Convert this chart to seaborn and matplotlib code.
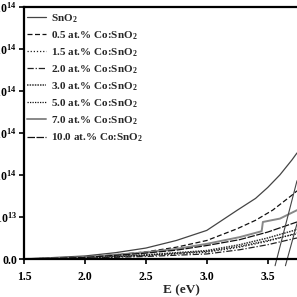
import numpy as np
import pandas as pd
import matplotlib
matplotlib.use("Agg")
import matplotlib.pyplot as plt
import seaborn as sns

sns.set_theme(style="ticks")
plt.rcParams['font.family'] = ['Liberation Serif', 'DejaVu Serif']
plt.rcParams['font.weight'] = 'bold'
plt.rcParams['mathtext.fontset'] = 'custom'
plt.rcParams['mathtext.rm'] = 'Liberation Serif:bold'
plt.rcParams['mathtext.it'] = 'Liberation Serif:bold'
plt.rcParams['mathtext.bf'] = 'Liberation Serif:bold'

# Photon energy (eV) and absorption coefficient (x1e13) per sample
E_sno2 = [1.5, 2.0, 2.25, 2.5, 2.75, 3.0, 3.25, 3.4, 3.5, 3.6, 3.7, 3.74]
A_sno2 = [0.0, 0.36, 0.75, 1.3, 2.2, 3.4, 5.8, 7.2, 8.5, 10.0, 11.8, 12.6]

E_05 = [1.5, 2.0, 2.25, 2.5, 2.75, 3.0, 3.25, 3.4, 3.54, 3.7, 3.74]
A_05 = [0.0, 0.25, 0.5, 0.85, 1.4, 2.2, 3.6, 4.6, 5.8, 7.6, 8.1]

E_15 = [1.5, 2.0, 2.5, 3.0, 3.27, 3.5, 3.74]
A_15 = [0.0, 0.12, 0.4, 0.8, 1.4, 2.1, 3.1]

E_20 = [1.5, 2.0, 2.5, 3.0, 3.27, 3.5, 3.74]
A_20 = [0.0, 0.1, 0.3, 0.6, 1.1, 1.7, 2.5]

E_30 = [1.5, 2.0, 2.5, 3.0, 3.27, 3.5, 3.74]
A_30 = [0.0, 0.15, 0.5, 1.0, 1.7, 2.5, 3.5]

E_50 = [1.5, 2.0, 2.5, 3.0, 3.27, 3.5, 3.74]
A_50 = [0.0, 0.12, 0.45, 0.9, 1.5, 2.2, 3.0]

E_70 = [1.5, 2.0, 2.5, 2.75, 3.0, 3.27, 3.45, 3.46, 3.6, 3.74]
A_70 = [0.0, 0.2, 0.8, 1.2, 1.8, 2.6, 3.3, 4.4, 4.8, 5.8]

E_100 = [1.5, 2.0, 2.5, 2.75, 3.0, 3.27, 3.5, 3.74]
A_100 = [0.0, 0.18, 0.7, 1.05, 1.6, 2.3, 3.2, 4.4]

# steep absorption-edge segments
E_edgeA = [3.56, 3.74]
A_edgeA = [-0.8, 9.3]
E_edgeB = [3.645, 3.74]
A_edgeB = [-0.8, 4.2]

labels = ["SnO$_2$", "0.5 at.% Co:SnO$_2$", "1.5 at.% Co:SnO$_2$",
          "2.0 at.% Co:SnO$_2$", "3.0 at.% Co:SnO$_2$", "5.0 at.% Co:SnO$_2$",
          "7.0 at.% Co:SnO$_2$", "10.0 at.% Co:SnO$_2$"]

series = [(E_sno2, A_sno2), (E_05, A_05), (E_15, A_15), (E_20, A_20),
          (E_30, A_30), (E_50, A_50), (E_70, A_70), (E_100, A_100)]
styles = [dict(color="#444444", ls="-", lw=0.9),
          dict(color="#111111", ls=(0, (4, 2)), lw=0.9),
          dict(color="#222222", ls=(0, (1, 1.5)), lw=0.9),
          dict(color="#222222", ls=(0, (5, 1.5, 1, 1.5)), lw=0.9),
          dict(color="#333333", ls=(0, (1, 0.7)), lw=1.1),
          dict(color="#111111", ls=(0, (1, 1)), lw=0.9),
          dict(color="#888888", ls="-", lw=1.4),
          dict(color="#111111", ls=(0, (6, 1.2)), lw=0.9)]

fig = plt.figure(figsize=(2.97, 2.97), dpi=100)
ax = fig.add_axes([24 / 297, 38 / 297, 273 / 297, 252.5 / 297])

for (E, A), lab, st in zip(series, labels, styles):
    df = pd.DataFrame({"E": E, "alpha": np.array(A) * 1e13})
    sns.lineplot(data=df, x="E", y="alpha", ax=ax, label=lab,
                 color=st["color"], linestyle=st["ls"], linewidth=st["lw"],
                 sort=False, estimator=None)

for E, A in [(E_edgeA, A_edgeA), (E_edgeB, A_edgeB)]:
    df = pd.DataFrame({"E": E, "alpha": np.array(A) * 1e13})
    sns.lineplot(data=df, x="E", y="alpha", ax=ax, color="#444444",
                 linewidth=0.8, sort=False, estimator=None, legend=False,
                 clip_on=False)

ax.set_xlim(1.5, 3.74)
ax.set_ylim(0, 3e14)
ax.set_xticks([1.5, 2.0, 2.5, 3.0, 3.5])
ax.set_xticklabels(["1.5", "2.0", "2.5", "3.0", "3.5"])
yt = [0, 5e13, 1e14, 1.5e14, 2e14, 2.5e14, 3e14]
ytl = ["0.0", "5.0x10$^{13}$", "1.0x10$^{14}$", "1.5x10$^{14}$",
       "2.0x10$^{14}$", "2.5x10$^{14}$", "3.0x10$^{14}$"]
ax.set_yticks(yt)
ax.set_yticklabels(ytl)
ax.tick_params(axis="both", direction="out", length=3.5, width=1.2,
               labelsize=8.5, colors="black")
ax.tick_params(axis="y", pad=1.5)
ax.tick_params(axis="x", pad=5)
for s in ["left", "bottom", "top"]:
    ax.spines[s].set_linewidth(1.6)
    ax.spines[s].set_color("black")
ax.spines["right"].set_visible(False)

ax.set_xlabel("E (eV)", fontsize=9.5, fontweight="bold")
ax.set_ylabel("")
ax.xaxis.set_label_coords((181 - 24) / 273, -0.1)

leg = ax.legend(loc="upper left", bbox_to_anchor=(0.012, 0.978), frameon=False,
                fontsize=8, handlelength=1.7, handletextpad=0.4,
                labelspacing=0.41, borderaxespad=0, borderpad=0)
for t in leg.get_texts():
    t.set_fontweight("bold")

fig.savefig("out.png", dpi=100)
